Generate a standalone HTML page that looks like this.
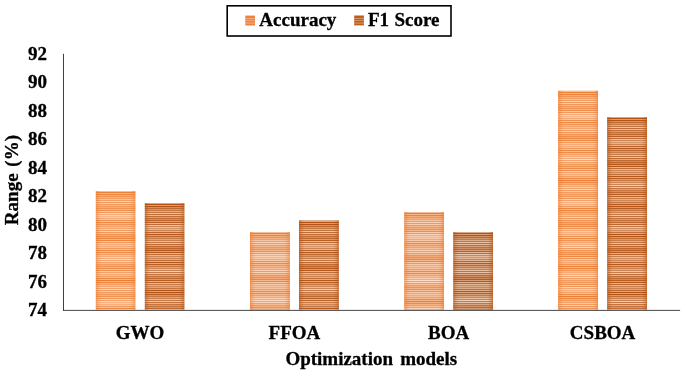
<!DOCTYPE html>
<html><head><meta charset="utf-8"><title>Chart</title><style>html,body{margin:0;padding:0;background:#fff}svg{display:block}</style></head><body>
<svg width="685" height="374" viewBox="0 0 685 374">
<rect width="685" height="374" fill="#fff"/>
<clipPath id="c1"><rect x="95.60" y="190.90" width="40.00" height="118.95"/></clipPath>
<g clip-path="url(#c1)">
<rect x="95.60" y="190" width="40" height="1" fill="#F09252"/><rect x="95.60" y="191" width="40" height="1" fill="#F7BE97"/><rect x="95.60" y="192" width="40" height="1" fill="#ED8035"/><rect x="95.60" y="193" width="40" height="1" fill="#F6B68A"/><rect x="95.60" y="194" width="40" height="1" fill="#EE833A"/><rect x="95.60" y="195" width="40" height="1" fill="#F4AE7D"/><rect x="95.60" y="196" width="40" height="1" fill="#F09455"/><rect x="95.60" y="197" width="40" height="1" fill="#F5B385"/><rect x="95.60" y="198" width="40" height="1" fill="#F29F66"/><rect x="95.60" y="199" width="40" height="1" fill="#F8C5A3"/><rect x="95.60" y="200" width="40" height="1" fill="#F29D64"/><rect x="95.60" y="201" width="40" height="1" fill="#FAD4B9"/><rect x="95.60" y="202" width="40" height="1" fill="#F1995C"/><rect x="95.60" y="203" width="40" height="1" fill="#F9CDAF"/><rect x="95.60" y="204" width="40" height="1" fill="#F1985C"/><rect x="95.60" y="205" width="40" height="1" fill="#F6B88E"/><rect x="95.60" y="206" width="40" height="1" fill="#F1985B"/><rect x="95.60" y="207" width="40" height="1" fill="#F4AD7D"/><rect x="95.60" y="208" width="40" height="1" fill="#F09151"/><rect x="95.60" y="209" width="40" height="1" fill="#F6B88D"/><rect x="95.60" y="210" width="40" height="1" fill="#EF8D4B"/><rect x="95.60" y="211" width="40" height="1" fill="#F9CBAB"/><rect x="95.60" y="212" width="40" height="1" fill="#F1975A"/><rect x="95.60" y="213" width="40" height="1" fill="#FAD4B9"/><rect x="95.60" y="214" width="40" height="1" fill="#F4AB7A"/><rect x="95.60" y="215" width="40" height="1" fill="#FAD0B3"/><rect x="95.60" y="216" width="40" height="1" fill="#F6B588"/><rect x="95.60" y="217" width="40" height="1" fill="#F9CAAA"/><rect x="95.60" y="218" width="40" height="1" fill="#F3A774"/><rect x="95.60" y="219" width="40" height="1" fill="#F9C9A8"/><rect x="95.60" y="220" width="40" height="1" fill="#F09050"/><rect x="95.60" y="221" width="40" height="1" fill="#F8C4A1"/><rect x="95.60" y="222" width="40" height="1" fill="#EF8741"/><rect x="95.60" y="223" width="40" height="1" fill="#F6BA91"/><rect x="95.60" y="224" width="40" height="1" fill="#F09353"/><rect x="95.60" y="225" width="40" height="1" fill="#F6B68A"/><rect x="95.60" y="226" width="40" height="1" fill="#F3A16A"/><rect x="95.60" y="227" width="40" height="1" fill="#F7C09A"/><rect x="95.60" y="228" width="40" height="1" fill="#F3A46E"/><rect x="95.60" y="229" width="40" height="1" fill="#FAD1B5"/><rect x="95.60" y="230" width="40" height="1" fill="#F29C62"/><rect x="95.60" y="231" width="40" height="1" fill="#FAD3B8"/><rect x="95.60" y="232" width="40" height="1" fill="#F19658"/><rect x="95.60" y="233" width="40" height="1" fill="#F7C19B"/><rect x="95.60" y="234" width="40" height="1" fill="#F09455"/><rect x="95.60" y="235" width="40" height="1" fill="#F4AB79"/><rect x="95.60" y="236" width="40" height="1" fill="#F08F4D"/><rect x="95.60" y="237" width="40" height="1" fill="#F4A875"/><rect x="95.60" y="238" width="40" height="1" fill="#EE8640"/><rect x="95.60" y="239" width="40" height="1" fill="#F6B88E"/><rect x="95.60" y="240" width="40" height="1" fill="#EF8741"/><rect x="95.60" y="241" width="40" height="1" fill="#F8C8A6"/><rect x="95.60" y="242" width="40" height="1" fill="#F1975A"/><rect x="95.60" y="243" width="40" height="1" fill="#F9CAAA"/><rect x="95.60" y="244" width="40" height="1" fill="#F4AA77"/><rect x="95.60" y="245" width="40" height="1" fill="#F8C5A2"/><rect x="95.60" y="246" width="40" height="1" fill="#F4AA77"/><rect x="95.60" y="247" width="40" height="1" fill="#F8C39E"/><rect x="95.60" y="248" width="40" height="1" fill="#F1975A"/><rect x="95.60" y="249" width="40" height="1" fill="#F8C39F"/><rect x="95.60" y="250" width="40" height="1" fill="#EF8741"/><rect x="95.60" y="251" width="40" height="1" fill="#F7BF99"/><rect x="95.60" y="252" width="40" height="1" fill="#EF8B47"/><rect x="95.60" y="253" width="40" height="1" fill="#F6B98F"/><rect x="95.60" y="254" width="40" height="1" fill="#F29E65"/><rect x="95.60" y="255" width="40" height="1" fill="#F7BE97"/><rect x="95.60" y="256" width="40" height="1" fill="#F4AB79"/><rect x="95.60" y="257" width="40" height="1" fill="#FAD0B2"/><rect x="95.60" y="258" width="40" height="1" fill="#F4A976"/><rect x="95.60" y="259" width="40" height="1" fill="#FCDDC8"/><rect x="95.60" y="260" width="40" height="1" fill="#F3A26A"/><rect x="95.60" y="261" width="40" height="1" fill="#FBD6BC"/><rect x="95.60" y="262" width="40" height="1" fill="#F29E64"/><rect x="95.60" y="263" width="40" height="1" fill="#F7BE98"/><rect x="95.60" y="264" width="40" height="1" fill="#F29B5F"/><rect x="95.60" y="265" width="40" height="1" fill="#F5AF7F"/><rect x="95.60" y="266" width="40" height="1" fill="#F09252"/><rect x="95.60" y="267" width="40" height="1" fill="#F6B589"/><rect x="95.60" y="268" width="40" height="1" fill="#EF8B47"/><rect x="95.60" y="269" width="40" height="1" fill="#F8C5A2"/><rect x="95.60" y="270" width="40" height="1" fill="#F09050"/><rect x="95.60" y="271" width="40" height="1" fill="#F9CDAE"/><rect x="95.60" y="272" width="40" height="1" fill="#F3A16A"/><rect x="95.60" y="273" width="40" height="1" fill="#F8C7A4"/><rect x="95.60" y="274" width="40" height="1" fill="#F4AA77"/><rect x="95.60" y="275" width="40" height="1" fill="#F7BF98"/><rect x="95.60" y="276" width="40" height="1" fill="#F29D63"/><rect x="95.60" y="277" width="40" height="1" fill="#F7BC94"/><rect x="95.60" y="278" width="40" height="1" fill="#EE8640"/><rect x="95.60" y="279" width="40" height="1" fill="#F6BA90"/><rect x="95.60" y="280" width="40" height="1" fill="#ED7D32"/><rect x="95.60" y="281" width="40" height="1" fill="#F5B386"/><rect x="95.60" y="282" width="40" height="1" fill="#EF8A46"/><rect x="95.60" y="283" width="40" height="1" fill="#F5B182"/><rect x="95.60" y="284" width="40" height="1" fill="#F29D63"/><rect x="95.60" y="285" width="40" height="1" fill="#F7BD95"/><rect x="95.60" y="286" width="40" height="1" fill="#F3A46F"/><rect x="95.60" y="287" width="40" height="1" fill="#FAD1B4"/><rect x="95.60" y="288" width="40" height="1" fill="#F2A067"/><rect x="95.60" y="289" width="40" height="1" fill="#FBD8BF"/><rect x="95.60" y="290" width="40" height="1" fill="#F29B60"/><rect x="95.60" y="291" width="40" height="1" fill="#F9C9A8"/><rect x="95.60" y="292" width="40" height="1" fill="#F29B61"/><rect x="95.60" y="293" width="40" height="1" fill="#F6B589"/><rect x="95.60" y="294" width="40" height="1" fill="#F1995D"/><rect x="95.60" y="295" width="40" height="1" fill="#F5B285"/><rect x="95.60" y="296" width="40" height="1" fill="#F09353"/><rect x="95.60" y="297" width="40" height="1" fill="#F8C39E"/><rect x="95.60" y="298" width="40" height="1" fill="#F09353"/><rect x="95.60" y="299" width="40" height="1" fill="#FAD3B8"/><rect x="95.60" y="300" width="40" height="1" fill="#F2A169"/><rect x="95.60" y="301" width="40" height="1" fill="#FAD4BA"/><rect x="95.60" y="302" width="40" height="1" fill="#F5B182"/><rect x="95.60" y="303" width="40" height="1" fill="#F9CCAC"/><rect x="95.60" y="304" width="40" height="1" fill="#F5AF80"/><rect x="95.60" y="305" width="40" height="1" fill="#F8C5A2"/><rect x="95.60" y="306" width="40" height="1" fill="#F19A5F"/><rect x="95.60" y="307" width="40" height="1" fill="#F8C29E"/><rect x="95.60" y="308" width="40" height="1" fill="#EE863E"/><rect x="95.60" y="309" width="40" height="1" fill="#F7BC94"/>
<rect x="95.60" y="190" width="1" height="119.85" fill="#ED7D31" opacity="0.6"/>
<rect x="134.60" y="190" width="1" height="119.85" fill="#ED7D31" opacity="0.6"/>
<rect x="96.60" y="190" width="1" height="119.85" fill="#ED7D31" opacity="0.4"/>
<rect x="133.60" y="190" width="1" height="119.85" fill="#ED7D31" opacity="0.4"/>
<rect x="97.60" y="190" width="1" height="119.85" fill="#ED7D31" opacity="0.25"/>
<rect x="132.60" y="190" width="1" height="119.85" fill="#ED7D31" opacity="0.25"/>
<rect x="98.60" y="190" width="1" height="119.85" fill="#ED7D31" opacity="0.14"/>
<rect x="131.60" y="190" width="1" height="119.85" fill="#ED7D31" opacity="0.14"/>
<rect x="99.60" y="190" width="1" height="119.85" fill="#ED7D31" opacity="0.07"/>
<rect x="130.60" y="190" width="1" height="119.85" fill="#ED7D31" opacity="0.07"/>
</g>
<clipPath id="c2"><rect x="144.60" y="203.00" width="40.00" height="106.85"/></clipPath>
<g clip-path="url(#c2)">
<rect x="144.60" y="203" width="40" height="1" fill="#DCA884"/><rect x="144.60" y="204" width="40" height="1" fill="#B45416"/><rect x="144.60" y="205" width="40" height="1" fill="#D79E77"/><rect x="144.60" y="206" width="40" height="1" fill="#B45416"/><rect x="144.60" y="207" width="40" height="1" fill="#D19266"/><rect x="144.60" y="208" width="40" height="1" fill="#BF6B34"/><rect x="144.60" y="209" width="40" height="1" fill="#D4976D"/><rect x="144.60" y="210" width="40" height="1" fill="#C57946"/><rect x="144.60" y="211" width="40" height="1" fill="#DFB08E"/><rect x="144.60" y="212" width="40" height="1" fill="#C37541"/><rect x="144.60" y="213" width="40" height="1" fill="#E9C4A8"/><rect x="144.60" y="214" width="40" height="1" fill="#C06E38"/><rect x="144.60" y="215" width="40" height="1" fill="#E5BB9C"/><rect x="144.60" y="216" width="40" height="1" fill="#C16F39"/><rect x="144.60" y="217" width="40" height="1" fill="#D79F77"/><rect x="144.60" y="218" width="40" height="1" fill="#C1703A"/><rect x="144.60" y="219" width="40" height="1" fill="#D09064"/><rect x="144.60" y="220" width="40" height="1" fill="#BD672F"/><rect x="144.60" y="221" width="40" height="1" fill="#D79F78"/><rect x="144.60" y="222" width="40" height="1" fill="#BA6026"/><rect x="144.60" y="223" width="40" height="1" fill="#E3B899"/><rect x="144.60" y="224" width="40" height="1" fill="#C06C36"/><rect x="144.60" y="225" width="40" height="1" fill="#E8C3A6"/><rect x="144.60" y="226" width="40" height="1" fill="#CC8759"/><rect x="144.60" y="227" width="40" height="1" fill="#E5BC9D"/><rect x="144.60" y="228" width="40" height="1" fill="#D3956A"/><rect x="144.60" y="229" width="40" height="1" fill="#E2B594"/><rect x="144.60" y="230" width="40" height="1" fill="#CA8353"/><rect x="144.60" y="231" width="40" height="1" fill="#E2B494"/><rect x="144.60" y="232" width="40" height="1" fill="#BC642B"/><rect x="144.60" y="233" width="40" height="1" fill="#E0B08E"/><rect x="144.60" y="234" width="40" height="1" fill="#B6591C"/><rect x="144.60" y="235" width="40" height="1" fill="#D9A37D"/><rect x="144.60" y="236" width="40" height="1" fill="#BE6831"/><rect x="144.60" y="237" width="40" height="1" fill="#D69B72"/><rect x="144.60" y="238" width="40" height="1" fill="#C77C4B"/><rect x="144.60" y="239" width="40" height="1" fill="#DCA884"/><rect x="144.60" y="240" width="40" height="1" fill="#C87E4D"/><rect x="144.60" y="241" width="40" height="1" fill="#E7BFA2"/><rect x="144.60" y="242" width="40" height="1" fill="#C2733E"/><rect x="144.60" y="243" width="40" height="1" fill="#E9C3A7"/><rect x="144.60" y="244" width="40" height="1" fill="#BF6B34"/><rect x="144.60" y="245" width="40" height="1" fill="#DDAA87"/><rect x="144.60" y="246" width="40" height="1" fill="#BF6A33"/><rect x="144.60" y="247" width="40" height="1" fill="#CF8D61"/><rect x="144.60" y="248" width="40" height="1" fill="#BC652C"/><rect x="144.60" y="249" width="40" height="1" fill="#CE8A5D"/><rect x="144.60" y="250" width="40" height="1" fill="#B6591C"/><rect x="144.60" y="251" width="40" height="1" fill="#D8A07A"/><rect x="144.60" y="252" width="40" height="1" fill="#B6581B"/><rect x="144.60" y="253" width="40" height="1" fill="#E2B594"/><rect x="144.60" y="254" width="40" height="1" fill="#C06D37"/><rect x="144.60" y="255" width="40" height="1" fill="#E2B696"/><rect x="144.60" y="256" width="40" height="1" fill="#CC8657"/><rect x="144.60" y="257" width="40" height="1" fill="#DEAE8B"/><rect x="144.60" y="258" width="40" height="1" fill="#CC8758"/><rect x="144.60" y="259" width="40" height="1" fill="#DEAC89"/><rect x="144.60" y="260" width="40" height="1" fill="#C06E38"/><rect x="144.60" y="261" width="40" height="1" fill="#DFAF8C"/><rect x="144.60" y="262" width="40" height="1" fill="#B6581B"/><rect x="144.60" y="263" width="40" height="1" fill="#DCAA86"/><rect x="144.60" y="264" width="40" height="1" fill="#B95E23"/><rect x="144.60" y="265" width="40" height="1" fill="#D8A079"/><rect x="144.60" y="266" width="40" height="1" fill="#C57845"/><rect x="144.60" y="267" width="40" height="1" fill="#DAA57F"/><rect x="144.60" y="268" width="40" height="1" fill="#CD885A"/><rect x="144.60" y="269" width="40" height="1" fill="#E5BC9E"/><rect x="144.60" y="270" width="40" height="1" fill="#CB8454"/><rect x="144.60" y="271" width="40" height="1" fill="#EECFB7"/><rect x="144.60" y="272" width="40" height="1" fill="#C57946"/><rect x="144.60" y="273" width="40" height="1" fill="#EAC6AA"/><rect x="144.60" y="274" width="40" height="1" fill="#C47642"/><rect x="144.60" y="275" width="40" height="1" fill="#DBA682"/><rect x="144.60" y="276" width="40" height="1" fill="#C3743F"/><rect x="144.60" y="277" width="40" height="1" fill="#D19267"/><rect x="144.60" y="278" width="40" height="1" fill="#BE6931"/><rect x="144.60" y="279" width="40" height="1" fill="#D69B73"/><rect x="144.60" y="280" width="40" height="1" fill="#B85D22"/><rect x="144.60" y="281" width="40" height="1" fill="#E0B290"/><rect x="144.60" y="282" width="40" height="1" fill="#BB642A"/><rect x="144.60" y="283" width="40" height="1" fill="#E4BA9B"/><rect x="144.60" y="284" width="40" height="1" fill="#C67A48"/><rect x="144.60" y="285" width="40" height="1" fill="#E0B08F"/><rect x="144.60" y="286" width="40" height="1" fill="#CC8758"/><rect x="144.60" y="287" width="40" height="1" fill="#DBA681"/><rect x="144.60" y="288" width="40" height="1" fill="#C47642"/><rect x="144.60" y="289" width="40" height="1" fill="#DAA57F"/><rect x="144.60" y="290" width="40" height="1" fill="#B6571A"/><rect x="144.60" y="291" width="40" height="1" fill="#D9A37D"/><rect x="144.60" y="292" width="40" height="1" fill="#B45416"/><rect x="144.60" y="293" width="40" height="1" fill="#D59A71"/><rect x="144.60" y="294" width="40" height="1" fill="#B95E23"/><rect x="144.60" y="295" width="40" height="1" fill="#D3956A"/><rect x="144.60" y="296" width="40" height="1" fill="#C57744"/><rect x="144.60" y="297" width="40" height="1" fill="#DAA47E"/><rect x="144.60" y="298" width="40" height="1" fill="#C87F4E"/><rect x="144.60" y="299" width="40" height="1" fill="#E6BFA1"/><rect x="144.60" y="300" width="40" height="1" fill="#C47743"/><rect x="144.60" y="301" width="40" height="1" fill="#EBC9AE"/><rect x="144.60" y="302" width="40" height="1" fill="#C2713C"/><rect x="144.60" y="303" width="40" height="1" fill="#E2B595"/><rect x="144.60" y="304" width="40" height="1" fill="#C3743F"/><rect x="144.60" y="305" width="40" height="1" fill="#D59A72"/><rect x="144.60" y="306" width="40" height="1" fill="#C2723D"/><rect x="144.60" y="307" width="40" height="1" fill="#D4976D"/><rect x="144.60" y="308" width="40" height="1" fill="#BE6931"/><rect x="144.60" y="309" width="40" height="1" fill="#DEAD8A"/>
<rect x="144.60" y="203" width="1" height="106.85" fill="#B45416" opacity="0.6"/>
<rect x="183.60" y="203" width="1" height="106.85" fill="#B45416" opacity="0.6"/>
<rect x="145.60" y="203" width="1" height="106.85" fill="#B45416" opacity="0.4"/>
<rect x="182.60" y="203" width="1" height="106.85" fill="#B45416" opacity="0.4"/>
<rect x="146.60" y="203" width="1" height="106.85" fill="#B45416" opacity="0.25"/>
<rect x="181.60" y="203" width="1" height="106.85" fill="#B45416" opacity="0.25"/>
<rect x="147.60" y="203" width="1" height="106.85" fill="#B45416" opacity="0.14"/>
<rect x="180.60" y="203" width="1" height="106.85" fill="#B45416" opacity="0.14"/>
<rect x="148.60" y="203" width="1" height="106.85" fill="#B45416" opacity="0.07"/>
<rect x="179.60" y="203" width="1" height="106.85" fill="#B45416" opacity="0.07"/>
</g>
<clipPath id="c3"><rect x="249.90" y="232.00" width="40.00" height="77.85"/></clipPath>
<g clip-path="url(#c3)">
<rect x="249.90" y="232" width="40" height="1" fill="#F7BE97"/><rect x="249.90" y="233" width="40" height="1" fill="#ED8035"/><rect x="249.90" y="234" width="40" height="1" fill="#F6B68A"/><rect x="249.90" y="235" width="40" height="1" fill="#EE833A"/><rect x="249.90" y="236" width="40" height="1" fill="#F4AE7D"/><rect x="249.90" y="237" width="40" height="1" fill="#F09455"/><rect x="249.90" y="238" width="40" height="1" fill="#F5B385"/><rect x="249.90" y="239" width="40" height="1" fill="#F29F66"/><rect x="249.90" y="240" width="40" height="1" fill="#F8C5A3"/><rect x="249.90" y="241" width="40" height="1" fill="#F29D64"/><rect x="249.90" y="242" width="40" height="1" fill="#FAD4B9"/><rect x="249.90" y="243" width="40" height="1" fill="#F1995C"/><rect x="249.90" y="244" width="40" height="1" fill="#F9CDAF"/><rect x="249.90" y="245" width="40" height="1" fill="#F1985C"/><rect x="249.90" y="246" width="40" height="1" fill="#F6B88E"/><rect x="249.90" y="247" width="40" height="1" fill="#F1985B"/><rect x="249.90" y="248" width="40" height="1" fill="#F4AD7D"/><rect x="249.90" y="249" width="40" height="1" fill="#F09151"/><rect x="249.90" y="250" width="40" height="1" fill="#F6B88D"/><rect x="249.90" y="251" width="40" height="1" fill="#EF8D4B"/><rect x="249.90" y="252" width="40" height="1" fill="#F9CBAB"/><rect x="249.90" y="253" width="40" height="1" fill="#F1975A"/><rect x="249.90" y="254" width="40" height="1" fill="#FAD4B9"/><rect x="249.90" y="255" width="40" height="1" fill="#F4AB7A"/><rect x="249.90" y="256" width="40" height="1" fill="#FAD0B3"/><rect x="249.90" y="257" width="40" height="1" fill="#F6B588"/><rect x="249.90" y="258" width="40" height="1" fill="#F9CAAA"/><rect x="249.90" y="259" width="40" height="1" fill="#F3A774"/><rect x="249.90" y="260" width="40" height="1" fill="#F9C9A8"/><rect x="249.90" y="261" width="40" height="1" fill="#F09050"/><rect x="249.90" y="262" width="40" height="1" fill="#F8C4A1"/><rect x="249.90" y="263" width="40" height="1" fill="#EF8741"/><rect x="249.90" y="264" width="40" height="1" fill="#F6BA91"/><rect x="249.90" y="265" width="40" height="1" fill="#F09353"/><rect x="249.90" y="266" width="40" height="1" fill="#F6B68A"/><rect x="249.90" y="267" width="40" height="1" fill="#F3A16A"/><rect x="249.90" y="268" width="40" height="1" fill="#F7C09A"/><rect x="249.90" y="269" width="40" height="1" fill="#F3A46E"/><rect x="249.90" y="270" width="40" height="1" fill="#FAD1B5"/><rect x="249.90" y="271" width="40" height="1" fill="#F29C62"/><rect x="249.90" y="272" width="40" height="1" fill="#FAD3B8"/><rect x="249.90" y="273" width="40" height="1" fill="#F19658"/><rect x="249.90" y="274" width="40" height="1" fill="#F7C19B"/><rect x="249.90" y="275" width="40" height="1" fill="#F09455"/><rect x="249.90" y="276" width="40" height="1" fill="#F4AB79"/><rect x="249.90" y="277" width="40" height="1" fill="#F08F4D"/><rect x="249.90" y="278" width="40" height="1" fill="#F4A875"/><rect x="249.90" y="279" width="40" height="1" fill="#EE8640"/><rect x="249.90" y="280" width="40" height="1" fill="#F6B88E"/><rect x="249.90" y="281" width="40" height="1" fill="#EF8741"/><rect x="249.90" y="282" width="40" height="1" fill="#F8C8A6"/><rect x="249.90" y="283" width="40" height="1" fill="#F1975A"/><rect x="249.90" y="284" width="40" height="1" fill="#F9CAAA"/><rect x="249.90" y="285" width="40" height="1" fill="#F4AA77"/><rect x="249.90" y="286" width="40" height="1" fill="#F8C5A2"/><rect x="249.90" y="287" width="40" height="1" fill="#F4AA77"/><rect x="249.90" y="288" width="40" height="1" fill="#F8C39E"/><rect x="249.90" y="289" width="40" height="1" fill="#F1975A"/><rect x="249.90" y="290" width="40" height="1" fill="#F8C39F"/><rect x="249.90" y="291" width="40" height="1" fill="#EF8741"/><rect x="249.90" y="292" width="40" height="1" fill="#F7BF99"/><rect x="249.90" y="293" width="40" height="1" fill="#EF8B47"/><rect x="249.90" y="294" width="40" height="1" fill="#F6B98F"/><rect x="249.90" y="295" width="40" height="1" fill="#F29E65"/><rect x="249.90" y="296" width="40" height="1" fill="#F7BE97"/><rect x="249.90" y="297" width="40" height="1" fill="#F4AB79"/><rect x="249.90" y="298" width="40" height="1" fill="#FAD0B2"/><rect x="249.90" y="299" width="40" height="1" fill="#F4A976"/><rect x="249.90" y="300" width="40" height="1" fill="#FCDDC8"/><rect x="249.90" y="301" width="40" height="1" fill="#F3A26A"/><rect x="249.90" y="302" width="40" height="1" fill="#FBD6BC"/><rect x="249.90" y="303" width="40" height="1" fill="#F29E64"/><rect x="249.90" y="304" width="40" height="1" fill="#F7BE98"/><rect x="249.90" y="305" width="40" height="1" fill="#F29B5F"/><rect x="249.90" y="306" width="40" height="1" fill="#F5AF7F"/><rect x="249.90" y="307" width="40" height="1" fill="#F09252"/><rect x="249.90" y="308" width="40" height="1" fill="#F6B589"/><rect x="249.90" y="309" width="40" height="1" fill="#EF8B47"/>
<rect x="249.90" y="232" width="1" height="77.85" fill="#ED7D31" opacity="0.6"/>
<rect x="288.90" y="232" width="1" height="77.85" fill="#ED7D31" opacity="0.6"/>
<rect x="250.90" y="232" width="1" height="77.85" fill="#ED7D31" opacity="0.4"/>
<rect x="287.90" y="232" width="1" height="77.85" fill="#ED7D31" opacity="0.4"/>
<rect x="251.90" y="232" width="1" height="77.85" fill="#ED7D31" opacity="0.25"/>
<rect x="286.90" y="232" width="1" height="77.85" fill="#ED7D31" opacity="0.25"/>
<rect x="252.90" y="232" width="1" height="77.85" fill="#ED7D31" opacity="0.14"/>
<rect x="285.90" y="232" width="1" height="77.85" fill="#ED7D31" opacity="0.14"/>
<rect x="253.90" y="232" width="1" height="77.85" fill="#ED7D31" opacity="0.07"/>
<rect x="284.90" y="232" width="1" height="77.85" fill="#ED7D31" opacity="0.07"/>
</g>
<clipPath id="c4"><rect x="298.90" y="220.60" width="40.00" height="89.25"/></clipPath>
<g clip-path="url(#c4)">
<rect x="298.90" y="220" width="40" height="1" fill="#BD672E"/><rect x="298.90" y="221" width="40" height="1" fill="#DCA884"/><rect x="298.90" y="222" width="40" height="1" fill="#B45416"/><rect x="298.90" y="223" width="40" height="1" fill="#D79E77"/><rect x="298.90" y="224" width="40" height="1" fill="#B45416"/><rect x="298.90" y="225" width="40" height="1" fill="#D19266"/><rect x="298.90" y="226" width="40" height="1" fill="#BF6B34"/><rect x="298.90" y="227" width="40" height="1" fill="#D4976D"/><rect x="298.90" y="228" width="40" height="1" fill="#C57946"/><rect x="298.90" y="229" width="40" height="1" fill="#DFB08E"/><rect x="298.90" y="230" width="40" height="1" fill="#C37541"/><rect x="298.90" y="231" width="40" height="1" fill="#E9C4A8"/><rect x="298.90" y="232" width="40" height="1" fill="#C06E38"/><rect x="298.90" y="233" width="40" height="1" fill="#E5BB9C"/><rect x="298.90" y="234" width="40" height="1" fill="#C16F39"/><rect x="298.90" y="235" width="40" height="1" fill="#D79F77"/><rect x="298.90" y="236" width="40" height="1" fill="#C1703A"/><rect x="298.90" y="237" width="40" height="1" fill="#D09064"/><rect x="298.90" y="238" width="40" height="1" fill="#BD672F"/><rect x="298.90" y="239" width="40" height="1" fill="#D79F78"/><rect x="298.90" y="240" width="40" height="1" fill="#BA6026"/><rect x="298.90" y="241" width="40" height="1" fill="#E3B899"/><rect x="298.90" y="242" width="40" height="1" fill="#C06C36"/><rect x="298.90" y="243" width="40" height="1" fill="#E8C3A6"/><rect x="298.90" y="244" width="40" height="1" fill="#CC8759"/><rect x="298.90" y="245" width="40" height="1" fill="#E5BC9D"/><rect x="298.90" y="246" width="40" height="1" fill="#D3956A"/><rect x="298.90" y="247" width="40" height="1" fill="#E2B594"/><rect x="298.90" y="248" width="40" height="1" fill="#CA8353"/><rect x="298.90" y="249" width="40" height="1" fill="#E2B494"/><rect x="298.90" y="250" width="40" height="1" fill="#BC642B"/><rect x="298.90" y="251" width="40" height="1" fill="#E0B08E"/><rect x="298.90" y="252" width="40" height="1" fill="#B6591C"/><rect x="298.90" y="253" width="40" height="1" fill="#D9A37D"/><rect x="298.90" y="254" width="40" height="1" fill="#BE6831"/><rect x="298.90" y="255" width="40" height="1" fill="#D69B72"/><rect x="298.90" y="256" width="40" height="1" fill="#C77C4B"/><rect x="298.90" y="257" width="40" height="1" fill="#DCA884"/><rect x="298.90" y="258" width="40" height="1" fill="#C87E4D"/><rect x="298.90" y="259" width="40" height="1" fill="#E7BFA2"/><rect x="298.90" y="260" width="40" height="1" fill="#C2733E"/><rect x="298.90" y="261" width="40" height="1" fill="#E9C3A7"/><rect x="298.90" y="262" width="40" height="1" fill="#BF6B34"/><rect x="298.90" y="263" width="40" height="1" fill="#DDAA87"/><rect x="298.90" y="264" width="40" height="1" fill="#BF6A33"/><rect x="298.90" y="265" width="40" height="1" fill="#CF8D61"/><rect x="298.90" y="266" width="40" height="1" fill="#BC652C"/><rect x="298.90" y="267" width="40" height="1" fill="#CE8A5D"/><rect x="298.90" y="268" width="40" height="1" fill="#B6591C"/><rect x="298.90" y="269" width="40" height="1" fill="#D8A07A"/><rect x="298.90" y="270" width="40" height="1" fill="#B6581B"/><rect x="298.90" y="271" width="40" height="1" fill="#E2B594"/><rect x="298.90" y="272" width="40" height="1" fill="#C06D37"/><rect x="298.90" y="273" width="40" height="1" fill="#E2B696"/><rect x="298.90" y="274" width="40" height="1" fill="#CC8657"/><rect x="298.90" y="275" width="40" height="1" fill="#DEAE8B"/><rect x="298.90" y="276" width="40" height="1" fill="#CC8758"/><rect x="298.90" y="277" width="40" height="1" fill="#DEAC89"/><rect x="298.90" y="278" width="40" height="1" fill="#C06E38"/><rect x="298.90" y="279" width="40" height="1" fill="#DFAF8C"/><rect x="298.90" y="280" width="40" height="1" fill="#B6581B"/><rect x="298.90" y="281" width="40" height="1" fill="#DCAA86"/><rect x="298.90" y="282" width="40" height="1" fill="#B95E23"/><rect x="298.90" y="283" width="40" height="1" fill="#D8A079"/><rect x="298.90" y="284" width="40" height="1" fill="#C57845"/><rect x="298.90" y="285" width="40" height="1" fill="#DAA57F"/><rect x="298.90" y="286" width="40" height="1" fill="#CD885A"/><rect x="298.90" y="287" width="40" height="1" fill="#E5BC9E"/><rect x="298.90" y="288" width="40" height="1" fill="#CB8454"/><rect x="298.90" y="289" width="40" height="1" fill="#EECFB7"/><rect x="298.90" y="290" width="40" height="1" fill="#C57946"/><rect x="298.90" y="291" width="40" height="1" fill="#EAC6AA"/><rect x="298.90" y="292" width="40" height="1" fill="#C47642"/><rect x="298.90" y="293" width="40" height="1" fill="#DBA682"/><rect x="298.90" y="294" width="40" height="1" fill="#C3743F"/><rect x="298.90" y="295" width="40" height="1" fill="#D19267"/><rect x="298.90" y="296" width="40" height="1" fill="#BE6931"/><rect x="298.90" y="297" width="40" height="1" fill="#D69B73"/><rect x="298.90" y="298" width="40" height="1" fill="#B85D22"/><rect x="298.90" y="299" width="40" height="1" fill="#E0B290"/><rect x="298.90" y="300" width="40" height="1" fill="#BB642A"/><rect x="298.90" y="301" width="40" height="1" fill="#E4BA9B"/><rect x="298.90" y="302" width="40" height="1" fill="#C67A48"/><rect x="298.90" y="303" width="40" height="1" fill="#E0B08F"/><rect x="298.90" y="304" width="40" height="1" fill="#CC8758"/><rect x="298.90" y="305" width="40" height="1" fill="#DBA681"/><rect x="298.90" y="306" width="40" height="1" fill="#C47642"/><rect x="298.90" y="307" width="40" height="1" fill="#DAA57F"/><rect x="298.90" y="308" width="40" height="1" fill="#B6571A"/><rect x="298.90" y="309" width="40" height="1" fill="#D9A37D"/>
<rect x="298.90" y="220" width="1" height="89.85" fill="#B45416" opacity="0.6"/>
<rect x="337.90" y="220" width="1" height="89.85" fill="#B45416" opacity="0.6"/>
<rect x="299.90" y="220" width="1" height="89.85" fill="#B45416" opacity="0.4"/>
<rect x="336.90" y="220" width="1" height="89.85" fill="#B45416" opacity="0.4"/>
<rect x="300.90" y="220" width="1" height="89.85" fill="#B45416" opacity="0.25"/>
<rect x="335.90" y="220" width="1" height="89.85" fill="#B45416" opacity="0.25"/>
<rect x="301.90" y="220" width="1" height="89.85" fill="#B45416" opacity="0.14"/>
<rect x="334.90" y="220" width="1" height="89.85" fill="#B45416" opacity="0.14"/>
<rect x="302.90" y="220" width="1" height="89.85" fill="#B45416" opacity="0.07"/>
<rect x="333.90" y="220" width="1" height="89.85" fill="#B45416" opacity="0.07"/>
</g>
<clipPath id="c5"><rect x="404.15" y="211.90" width="40.00" height="97.95"/></clipPath>
<g clip-path="url(#c5)">
<rect x="404.15" y="211" width="40" height="1" fill="#F09252"/><rect x="404.15" y="212" width="40" height="1" fill="#F7BE97"/><rect x="404.15" y="213" width="40" height="1" fill="#ED8035"/><rect x="404.15" y="214" width="40" height="1" fill="#F6B68A"/><rect x="404.15" y="215" width="40" height="1" fill="#EE833A"/><rect x="404.15" y="216" width="40" height="1" fill="#F4AE7D"/><rect x="404.15" y="217" width="40" height="1" fill="#F09455"/><rect x="404.15" y="218" width="40" height="1" fill="#F5B385"/><rect x="404.15" y="219" width="40" height="1" fill="#F29F66"/><rect x="404.15" y="220" width="40" height="1" fill="#F8C5A3"/><rect x="404.15" y="221" width="40" height="1" fill="#F29D64"/><rect x="404.15" y="222" width="40" height="1" fill="#FAD4B9"/><rect x="404.15" y="223" width="40" height="1" fill="#F1995C"/><rect x="404.15" y="224" width="40" height="1" fill="#F9CDAF"/><rect x="404.15" y="225" width="40" height="1" fill="#F1985C"/><rect x="404.15" y="226" width="40" height="1" fill="#F6B88E"/><rect x="404.15" y="227" width="40" height="1" fill="#F1985B"/><rect x="404.15" y="228" width="40" height="1" fill="#F4AD7D"/><rect x="404.15" y="229" width="40" height="1" fill="#F09151"/><rect x="404.15" y="230" width="40" height="1" fill="#F6B88D"/><rect x="404.15" y="231" width="40" height="1" fill="#EF8D4B"/><rect x="404.15" y="232" width="40" height="1" fill="#F9CBAB"/><rect x="404.15" y="233" width="40" height="1" fill="#F1975A"/><rect x="404.15" y="234" width="40" height="1" fill="#FAD4B9"/><rect x="404.15" y="235" width="40" height="1" fill="#F4AB7A"/><rect x="404.15" y="236" width="40" height="1" fill="#FAD0B3"/><rect x="404.15" y="237" width="40" height="1" fill="#F6B588"/><rect x="404.15" y="238" width="40" height="1" fill="#F9CAAA"/><rect x="404.15" y="239" width="40" height="1" fill="#F3A774"/><rect x="404.15" y="240" width="40" height="1" fill="#F9C9A8"/><rect x="404.15" y="241" width="40" height="1" fill="#F09050"/><rect x="404.15" y="242" width="40" height="1" fill="#F8C4A1"/><rect x="404.15" y="243" width="40" height="1" fill="#EF8741"/><rect x="404.15" y="244" width="40" height="1" fill="#F6BA91"/><rect x="404.15" y="245" width="40" height="1" fill="#F09353"/><rect x="404.15" y="246" width="40" height="1" fill="#F6B68A"/><rect x="404.15" y="247" width="40" height="1" fill="#F3A16A"/><rect x="404.15" y="248" width="40" height="1" fill="#F7C09A"/><rect x="404.15" y="249" width="40" height="1" fill="#F3A46E"/><rect x="404.15" y="250" width="40" height="1" fill="#FAD1B5"/><rect x="404.15" y="251" width="40" height="1" fill="#F29C62"/><rect x="404.15" y="252" width="40" height="1" fill="#FAD3B8"/><rect x="404.15" y="253" width="40" height="1" fill="#F19658"/><rect x="404.15" y="254" width="40" height="1" fill="#F7C19B"/><rect x="404.15" y="255" width="40" height="1" fill="#F09455"/><rect x="404.15" y="256" width="40" height="1" fill="#F4AB79"/><rect x="404.15" y="257" width="40" height="1" fill="#F08F4D"/><rect x="404.15" y="258" width="40" height="1" fill="#F4A875"/><rect x="404.15" y="259" width="40" height="1" fill="#EE8640"/><rect x="404.15" y="260" width="40" height="1" fill="#F6B88E"/><rect x="404.15" y="261" width="40" height="1" fill="#EF8741"/><rect x="404.15" y="262" width="40" height="1" fill="#F8C8A6"/><rect x="404.15" y="263" width="40" height="1" fill="#F1975A"/><rect x="404.15" y="264" width="40" height="1" fill="#F9CAAA"/><rect x="404.15" y="265" width="40" height="1" fill="#F4AA77"/><rect x="404.15" y="266" width="40" height="1" fill="#F8C5A2"/><rect x="404.15" y="267" width="40" height="1" fill="#F4AA77"/><rect x="404.15" y="268" width="40" height="1" fill="#F8C39E"/><rect x="404.15" y="269" width="40" height="1" fill="#F1975A"/><rect x="404.15" y="270" width="40" height="1" fill="#F8C39F"/><rect x="404.15" y="271" width="40" height="1" fill="#EF8741"/><rect x="404.15" y="272" width="40" height="1" fill="#F7BF99"/><rect x="404.15" y="273" width="40" height="1" fill="#EF8B47"/><rect x="404.15" y="274" width="40" height="1" fill="#F6B98F"/><rect x="404.15" y="275" width="40" height="1" fill="#F29E65"/><rect x="404.15" y="276" width="40" height="1" fill="#F7BE97"/><rect x="404.15" y="277" width="40" height="1" fill="#F4AB79"/><rect x="404.15" y="278" width="40" height="1" fill="#FAD0B2"/><rect x="404.15" y="279" width="40" height="1" fill="#F4A976"/><rect x="404.15" y="280" width="40" height="1" fill="#FCDDC8"/><rect x="404.15" y="281" width="40" height="1" fill="#F3A26A"/><rect x="404.15" y="282" width="40" height="1" fill="#FBD6BC"/><rect x="404.15" y="283" width="40" height="1" fill="#F29E64"/><rect x="404.15" y="284" width="40" height="1" fill="#F7BE98"/><rect x="404.15" y="285" width="40" height="1" fill="#F29B5F"/><rect x="404.15" y="286" width="40" height="1" fill="#F5AF7F"/><rect x="404.15" y="287" width="40" height="1" fill="#F09252"/><rect x="404.15" y="288" width="40" height="1" fill="#F6B589"/><rect x="404.15" y="289" width="40" height="1" fill="#EF8B47"/><rect x="404.15" y="290" width="40" height="1" fill="#F8C5A2"/><rect x="404.15" y="291" width="40" height="1" fill="#F09050"/><rect x="404.15" y="292" width="40" height="1" fill="#F9CDAE"/><rect x="404.15" y="293" width="40" height="1" fill="#F3A16A"/><rect x="404.15" y="294" width="40" height="1" fill="#F8C7A4"/><rect x="404.15" y="295" width="40" height="1" fill="#F4AA77"/><rect x="404.15" y="296" width="40" height="1" fill="#F7BF98"/><rect x="404.15" y="297" width="40" height="1" fill="#F29D63"/><rect x="404.15" y="298" width="40" height="1" fill="#F7BC94"/><rect x="404.15" y="299" width="40" height="1" fill="#EE8640"/><rect x="404.15" y="300" width="40" height="1" fill="#F6BA90"/><rect x="404.15" y="301" width="40" height="1" fill="#ED7D32"/><rect x="404.15" y="302" width="40" height="1" fill="#F5B386"/><rect x="404.15" y="303" width="40" height="1" fill="#EF8A46"/><rect x="404.15" y="304" width="40" height="1" fill="#F5B182"/><rect x="404.15" y="305" width="40" height="1" fill="#F29D63"/><rect x="404.15" y="306" width="40" height="1" fill="#F7BD95"/><rect x="404.15" y="307" width="40" height="1" fill="#F3A46F"/><rect x="404.15" y="308" width="40" height="1" fill="#FAD1B4"/><rect x="404.15" y="309" width="40" height="1" fill="#F2A067"/>
<rect x="404.15" y="211" width="1" height="98.85" fill="#ED7D31" opacity="0.6"/>
<rect x="443.15" y="211" width="1" height="98.85" fill="#ED7D31" opacity="0.6"/>
<rect x="405.15" y="211" width="1" height="98.85" fill="#ED7D31" opacity="0.4"/>
<rect x="442.15" y="211" width="1" height="98.85" fill="#ED7D31" opacity="0.4"/>
<rect x="406.15" y="211" width="1" height="98.85" fill="#ED7D31" opacity="0.25"/>
<rect x="441.15" y="211" width="1" height="98.85" fill="#ED7D31" opacity="0.25"/>
<rect x="407.15" y="211" width="1" height="98.85" fill="#ED7D31" opacity="0.14"/>
<rect x="440.15" y="211" width="1" height="98.85" fill="#ED7D31" opacity="0.14"/>
<rect x="408.15" y="211" width="1" height="98.85" fill="#ED7D31" opacity="0.07"/>
<rect x="439.15" y="211" width="1" height="98.85" fill="#ED7D31" opacity="0.07"/>
</g>
<clipPath id="c6"><rect x="453.15" y="232.10" width="40.00" height="77.75"/></clipPath>
<g clip-path="url(#c6)">
<rect x="453.15" y="232" width="40" height="1" fill="#DCA884"/><rect x="453.15" y="233" width="40" height="1" fill="#B45416"/><rect x="453.15" y="234" width="40" height="1" fill="#D79E77"/><rect x="453.15" y="235" width="40" height="1" fill="#B45416"/><rect x="453.15" y="236" width="40" height="1" fill="#D19266"/><rect x="453.15" y="237" width="40" height="1" fill="#BF6B34"/><rect x="453.15" y="238" width="40" height="1" fill="#D4976D"/><rect x="453.15" y="239" width="40" height="1" fill="#C57946"/><rect x="453.15" y="240" width="40" height="1" fill="#DFB08E"/><rect x="453.15" y="241" width="40" height="1" fill="#C37541"/><rect x="453.15" y="242" width="40" height="1" fill="#E9C4A8"/><rect x="453.15" y="243" width="40" height="1" fill="#C06E38"/><rect x="453.15" y="244" width="40" height="1" fill="#E5BB9C"/><rect x="453.15" y="245" width="40" height="1" fill="#C16F39"/><rect x="453.15" y="246" width="40" height="1" fill="#D79F77"/><rect x="453.15" y="247" width="40" height="1" fill="#C1703A"/><rect x="453.15" y="248" width="40" height="1" fill="#D09064"/><rect x="453.15" y="249" width="40" height="1" fill="#BD672F"/><rect x="453.15" y="250" width="40" height="1" fill="#D79F78"/><rect x="453.15" y="251" width="40" height="1" fill="#BA6026"/><rect x="453.15" y="252" width="40" height="1" fill="#E3B899"/><rect x="453.15" y="253" width="40" height="1" fill="#C06C36"/><rect x="453.15" y="254" width="40" height="1" fill="#E8C3A6"/><rect x="453.15" y="255" width="40" height="1" fill="#CC8759"/><rect x="453.15" y="256" width="40" height="1" fill="#E5BC9D"/><rect x="453.15" y="257" width="40" height="1" fill="#D3956A"/><rect x="453.15" y="258" width="40" height="1" fill="#E2B594"/><rect x="453.15" y="259" width="40" height="1" fill="#CA8353"/><rect x="453.15" y="260" width="40" height="1" fill="#E2B494"/><rect x="453.15" y="261" width="40" height="1" fill="#BC642B"/><rect x="453.15" y="262" width="40" height="1" fill="#E0B08E"/><rect x="453.15" y="263" width="40" height="1" fill="#B6591C"/><rect x="453.15" y="264" width="40" height="1" fill="#D9A37D"/><rect x="453.15" y="265" width="40" height="1" fill="#BE6831"/><rect x="453.15" y="266" width="40" height="1" fill="#D69B72"/><rect x="453.15" y="267" width="40" height="1" fill="#C77C4B"/><rect x="453.15" y="268" width="40" height="1" fill="#DCA884"/><rect x="453.15" y="269" width="40" height="1" fill="#C87E4D"/><rect x="453.15" y="270" width="40" height="1" fill="#E7BFA2"/><rect x="453.15" y="271" width="40" height="1" fill="#C2733E"/><rect x="453.15" y="272" width="40" height="1" fill="#E9C3A7"/><rect x="453.15" y="273" width="40" height="1" fill="#BF6B34"/><rect x="453.15" y="274" width="40" height="1" fill="#DDAA87"/><rect x="453.15" y="275" width="40" height="1" fill="#BF6A33"/><rect x="453.15" y="276" width="40" height="1" fill="#CF8D61"/><rect x="453.15" y="277" width="40" height="1" fill="#BC652C"/><rect x="453.15" y="278" width="40" height="1" fill="#CE8A5D"/><rect x="453.15" y="279" width="40" height="1" fill="#B6591C"/><rect x="453.15" y="280" width="40" height="1" fill="#D8A07A"/><rect x="453.15" y="281" width="40" height="1" fill="#B6581B"/><rect x="453.15" y="282" width="40" height="1" fill="#E2B594"/><rect x="453.15" y="283" width="40" height="1" fill="#C06D37"/><rect x="453.15" y="284" width="40" height="1" fill="#E2B696"/><rect x="453.15" y="285" width="40" height="1" fill="#CC8657"/><rect x="453.15" y="286" width="40" height="1" fill="#DEAE8B"/><rect x="453.15" y="287" width="40" height="1" fill="#CC8758"/><rect x="453.15" y="288" width="40" height="1" fill="#DEAC89"/><rect x="453.15" y="289" width="40" height="1" fill="#C06E38"/><rect x="453.15" y="290" width="40" height="1" fill="#DFAF8C"/><rect x="453.15" y="291" width="40" height="1" fill="#B6581B"/><rect x="453.15" y="292" width="40" height="1" fill="#DCAA86"/><rect x="453.15" y="293" width="40" height="1" fill="#B95E23"/><rect x="453.15" y="294" width="40" height="1" fill="#D8A079"/><rect x="453.15" y="295" width="40" height="1" fill="#C57845"/><rect x="453.15" y="296" width="40" height="1" fill="#DAA57F"/><rect x="453.15" y="297" width="40" height="1" fill="#CD885A"/><rect x="453.15" y="298" width="40" height="1" fill="#E5BC9E"/><rect x="453.15" y="299" width="40" height="1" fill="#CB8454"/><rect x="453.15" y="300" width="40" height="1" fill="#EECFB7"/><rect x="453.15" y="301" width="40" height="1" fill="#C57946"/><rect x="453.15" y="302" width="40" height="1" fill="#EAC6AA"/><rect x="453.15" y="303" width="40" height="1" fill="#C47642"/><rect x="453.15" y="304" width="40" height="1" fill="#DBA682"/><rect x="453.15" y="305" width="40" height="1" fill="#C3743F"/><rect x="453.15" y="306" width="40" height="1" fill="#D19267"/><rect x="453.15" y="307" width="40" height="1" fill="#BE6931"/><rect x="453.15" y="308" width="40" height="1" fill="#D69B73"/><rect x="453.15" y="309" width="40" height="1" fill="#B85D22"/>
<rect x="453.15" y="232" width="1" height="77.85" fill="#B45416" opacity="0.6"/>
<rect x="492.15" y="232" width="1" height="77.85" fill="#B45416" opacity="0.6"/>
<rect x="454.15" y="232" width="1" height="77.85" fill="#B45416" opacity="0.4"/>
<rect x="491.15" y="232" width="1" height="77.85" fill="#B45416" opacity="0.4"/>
<rect x="455.15" y="232" width="1" height="77.85" fill="#B45416" opacity="0.25"/>
<rect x="490.15" y="232" width="1" height="77.85" fill="#B45416" opacity="0.25"/>
<rect x="456.15" y="232" width="1" height="77.85" fill="#B45416" opacity="0.14"/>
<rect x="489.15" y="232" width="1" height="77.85" fill="#B45416" opacity="0.14"/>
<rect x="457.15" y="232" width="1" height="77.85" fill="#B45416" opacity="0.07"/>
<rect x="488.15" y="232" width="1" height="77.85" fill="#B45416" opacity="0.07"/>
</g>
<clipPath id="c7"><rect x="558.10" y="90.80" width="40.00" height="219.05"/></clipPath>
<g clip-path="url(#c7)">
<rect x="558.10" y="90" width="40" height="1" fill="#F09252"/><rect x="558.10" y="91" width="40" height="1" fill="#F7BE97"/><rect x="558.10" y="92" width="40" height="1" fill="#ED8035"/><rect x="558.10" y="93" width="40" height="1" fill="#F6B68A"/><rect x="558.10" y="94" width="40" height="1" fill="#EE833A"/><rect x="558.10" y="95" width="40" height="1" fill="#F4AE7D"/><rect x="558.10" y="96" width="40" height="1" fill="#F09455"/><rect x="558.10" y="97" width="40" height="1" fill="#F5B385"/><rect x="558.10" y="98" width="40" height="1" fill="#F29F66"/><rect x="558.10" y="99" width="40" height="1" fill="#F8C5A3"/><rect x="558.10" y="100" width="40" height="1" fill="#F29D64"/><rect x="558.10" y="101" width="40" height="1" fill="#FAD4B9"/><rect x="558.10" y="102" width="40" height="1" fill="#F1995C"/><rect x="558.10" y="103" width="40" height="1" fill="#F9CDAF"/><rect x="558.10" y="104" width="40" height="1" fill="#F1985C"/><rect x="558.10" y="105" width="40" height="1" fill="#F6B88E"/><rect x="558.10" y="106" width="40" height="1" fill="#F1985B"/><rect x="558.10" y="107" width="40" height="1" fill="#F4AD7D"/><rect x="558.10" y="108" width="40" height="1" fill="#F09151"/><rect x="558.10" y="109" width="40" height="1" fill="#F6B88D"/><rect x="558.10" y="110" width="40" height="1" fill="#EF8D4B"/><rect x="558.10" y="111" width="40" height="1" fill="#F9CBAB"/><rect x="558.10" y="112" width="40" height="1" fill="#F1975A"/><rect x="558.10" y="113" width="40" height="1" fill="#FAD4B9"/><rect x="558.10" y="114" width="40" height="1" fill="#F4AB7A"/><rect x="558.10" y="115" width="40" height="1" fill="#FAD0B3"/><rect x="558.10" y="116" width="40" height="1" fill="#F6B588"/><rect x="558.10" y="117" width="40" height="1" fill="#F9CAAA"/><rect x="558.10" y="118" width="40" height="1" fill="#F3A774"/><rect x="558.10" y="119" width="40" height="1" fill="#F9C9A8"/><rect x="558.10" y="120" width="40" height="1" fill="#F09050"/><rect x="558.10" y="121" width="40" height="1" fill="#F8C4A1"/><rect x="558.10" y="122" width="40" height="1" fill="#EF8741"/><rect x="558.10" y="123" width="40" height="1" fill="#F6BA91"/><rect x="558.10" y="124" width="40" height="1" fill="#F09353"/><rect x="558.10" y="125" width="40" height="1" fill="#F6B68A"/><rect x="558.10" y="126" width="40" height="1" fill="#F3A16A"/><rect x="558.10" y="127" width="40" height="1" fill="#F7C09A"/><rect x="558.10" y="128" width="40" height="1" fill="#F3A46E"/><rect x="558.10" y="129" width="40" height="1" fill="#FAD1B5"/><rect x="558.10" y="130" width="40" height="1" fill="#F29C62"/><rect x="558.10" y="131" width="40" height="1" fill="#FAD3B8"/><rect x="558.10" y="132" width="40" height="1" fill="#F19658"/><rect x="558.10" y="133" width="40" height="1" fill="#F7C19B"/><rect x="558.10" y="134" width="40" height="1" fill="#F09455"/><rect x="558.10" y="135" width="40" height="1" fill="#F4AB79"/><rect x="558.10" y="136" width="40" height="1" fill="#F08F4D"/><rect x="558.10" y="137" width="40" height="1" fill="#F4A875"/><rect x="558.10" y="138" width="40" height="1" fill="#EE8640"/><rect x="558.10" y="139" width="40" height="1" fill="#F6B88E"/><rect x="558.10" y="140" width="40" height="1" fill="#EF8741"/><rect x="558.10" y="141" width="40" height="1" fill="#F8C8A6"/><rect x="558.10" y="142" width="40" height="1" fill="#F1975A"/><rect x="558.10" y="143" width="40" height="1" fill="#F9CAAA"/><rect x="558.10" y="144" width="40" height="1" fill="#F4AA77"/><rect x="558.10" y="145" width="40" height="1" fill="#F8C5A2"/><rect x="558.10" y="146" width="40" height="1" fill="#F4AA77"/><rect x="558.10" y="147" width="40" height="1" fill="#F8C39E"/><rect x="558.10" y="148" width="40" height="1" fill="#F1975A"/><rect x="558.10" y="149" width="40" height="1" fill="#F8C39F"/><rect x="558.10" y="150" width="40" height="1" fill="#EF8741"/><rect x="558.10" y="151" width="40" height="1" fill="#F7BF99"/><rect x="558.10" y="152" width="40" height="1" fill="#EF8B47"/><rect x="558.10" y="153" width="40" height="1" fill="#F6B98F"/><rect x="558.10" y="154" width="40" height="1" fill="#F29E65"/><rect x="558.10" y="155" width="40" height="1" fill="#F7BE97"/><rect x="558.10" y="156" width="40" height="1" fill="#F4AB79"/><rect x="558.10" y="157" width="40" height="1" fill="#FAD0B2"/><rect x="558.10" y="158" width="40" height="1" fill="#F4A976"/><rect x="558.10" y="159" width="40" height="1" fill="#FCDDC8"/><rect x="558.10" y="160" width="40" height="1" fill="#F3A26A"/><rect x="558.10" y="161" width="40" height="1" fill="#FBD6BC"/><rect x="558.10" y="162" width="40" height="1" fill="#F29E64"/><rect x="558.10" y="163" width="40" height="1" fill="#F7BE98"/><rect x="558.10" y="164" width="40" height="1" fill="#F29B5F"/><rect x="558.10" y="165" width="40" height="1" fill="#F5AF7F"/><rect x="558.10" y="166" width="40" height="1" fill="#F09252"/><rect x="558.10" y="167" width="40" height="1" fill="#F6B589"/><rect x="558.10" y="168" width="40" height="1" fill="#EF8B47"/><rect x="558.10" y="169" width="40" height="1" fill="#F8C5A2"/><rect x="558.10" y="170" width="40" height="1" fill="#F09050"/><rect x="558.10" y="171" width="40" height="1" fill="#F9CDAE"/><rect x="558.10" y="172" width="40" height="1" fill="#F3A16A"/><rect x="558.10" y="173" width="40" height="1" fill="#F8C7A4"/><rect x="558.10" y="174" width="40" height="1" fill="#F4AA77"/><rect x="558.10" y="175" width="40" height="1" fill="#F7BF98"/><rect x="558.10" y="176" width="40" height="1" fill="#F29D63"/><rect x="558.10" y="177" width="40" height="1" fill="#F7BC94"/><rect x="558.10" y="178" width="40" height="1" fill="#EE8640"/><rect x="558.10" y="179" width="40" height="1" fill="#F6BA90"/><rect x="558.10" y="180" width="40" height="1" fill="#ED7D32"/><rect x="558.10" y="181" width="40" height="1" fill="#F5B386"/><rect x="558.10" y="182" width="40" height="1" fill="#EF8A46"/><rect x="558.10" y="183" width="40" height="1" fill="#F5B182"/><rect x="558.10" y="184" width="40" height="1" fill="#F29D63"/><rect x="558.10" y="185" width="40" height="1" fill="#F7BD95"/><rect x="558.10" y="186" width="40" height="1" fill="#F3A46F"/><rect x="558.10" y="187" width="40" height="1" fill="#FAD1B4"/><rect x="558.10" y="188" width="40" height="1" fill="#F2A067"/><rect x="558.10" y="189" width="40" height="1" fill="#FBD8BF"/><rect x="558.10" y="190" width="40" height="1" fill="#F29B60"/><rect x="558.10" y="191" width="40" height="1" fill="#F9C9A8"/><rect x="558.10" y="192" width="40" height="1" fill="#F29B61"/><rect x="558.10" y="193" width="40" height="1" fill="#F6B589"/><rect x="558.10" y="194" width="40" height="1" fill="#F1995D"/><rect x="558.10" y="195" width="40" height="1" fill="#F5B285"/><rect x="558.10" y="196" width="40" height="1" fill="#F09353"/><rect x="558.10" y="197" width="40" height="1" fill="#F8C39E"/><rect x="558.10" y="198" width="40" height="1" fill="#F09353"/><rect x="558.10" y="199" width="40" height="1" fill="#FAD3B8"/><rect x="558.10" y="200" width="40" height="1" fill="#F2A169"/><rect x="558.10" y="201" width="40" height="1" fill="#FAD4BA"/><rect x="558.10" y="202" width="40" height="1" fill="#F5B182"/><rect x="558.10" y="203" width="40" height="1" fill="#F9CCAC"/><rect x="558.10" y="204" width="40" height="1" fill="#F5AF80"/><rect x="558.10" y="205" width="40" height="1" fill="#F8C5A2"/><rect x="558.10" y="206" width="40" height="1" fill="#F19A5F"/><rect x="558.10" y="207" width="40" height="1" fill="#F8C29E"/><rect x="558.10" y="208" width="40" height="1" fill="#EE863E"/><rect x="558.10" y="209" width="40" height="1" fill="#F7BC94"/><rect x="558.10" y="210" width="40" height="1" fill="#EE853E"/><rect x="558.10" y="211" width="40" height="1" fill="#F5B487"/><rect x="558.10" y="212" width="40" height="1" fill="#F19557"/><rect x="558.10" y="213" width="40" height="1" fill="#F6B589"/><rect x="558.10" y="214" width="40" height="1" fill="#F3A26A"/><rect x="558.10" y="215" width="40" height="1" fill="#F8C4A0"/><rect x="558.10" y="216" width="40" height="1" fill="#F29F66"/><rect x="558.10" y="217" width="40" height="1" fill="#FAD1B5"/><rect x="558.10" y="218" width="40" height="1" fill="#F19659"/><rect x="558.10" y="219" width="40" height="1" fill="#F9CBAC"/><rect x="558.10" y="220" width="40" height="1" fill="#F09252"/><rect x="558.10" y="221" width="40" height="1" fill="#F6B68A"/><rect x="558.10" y="222" width="40" height="1" fill="#F09251"/><rect x="558.10" y="223" width="40" height="1" fill="#F3A874"/><rect x="558.10" y="224" width="40" height="1" fill="#EF8D4A"/><rect x="558.10" y="225" width="40" height="1" fill="#F5AF80"/><rect x="558.10" y="226" width="40" height="1" fill="#EF8944"/><rect x="558.10" y="227" width="40" height="1" fill="#F8C4A0"/><rect x="558.10" y="228" width="40" height="1" fill="#F09151"/><rect x="558.10" y="229" width="40" height="1" fill="#FAD0B3"/><rect x="558.10" y="230" width="40" height="1" fill="#F3A46F"/><rect x="558.10" y="231" width="40" height="1" fill="#F9CDAF"/><rect x="558.10" y="232" width="40" height="1" fill="#F5B182"/><rect x="558.10" y="233" width="40" height="1" fill="#F8C7A5"/><rect x="558.10" y="234" width="40" height="1" fill="#F3A874"/><rect x="558.10" y="235" width="40" height="1" fill="#F8C5A2"/><rect x="558.10" y="236" width="40" height="1" fill="#F09252"/><rect x="558.10" y="237" width="40" height="1" fill="#F8C5A1"/><rect x="558.10" y="238" width="40" height="1" fill="#EF8843"/><rect x="558.10" y="239" width="40" height="1" fill="#F7BF99"/><rect x="558.10" y="240" width="40" height="1" fill="#F09455"/><rect x="558.10" y="241" width="40" height="1" fill="#F7BB93"/><rect x="558.10" y="242" width="40" height="1" fill="#F3A671"/><rect x="558.10" y="243" width="40" height="1" fill="#F8C4A1"/><rect x="558.10" y="244" width="40" height="1" fill="#F4AC7A"/><rect x="558.10" y="245" width="40" height="1" fill="#FAD5BA"/><rect x="558.10" y="246" width="40" height="1" fill="#F3A46E"/><rect x="558.10" y="247" width="40" height="1" fill="#FBD9C2"/><rect x="558.10" y="248" width="40" height="1" fill="#F29B5F"/><rect x="558.10" y="249" width="40" height="1" fill="#F9C8A7"/><rect x="558.10" y="250" width="40" height="1" fill="#F1975A"/><rect x="558.10" y="251" width="40" height="1" fill="#F5B182"/><rect x="558.10" y="252" width="40" height="1" fill="#F09353"/><rect x="558.10" y="253" width="40" height="1" fill="#F4AA77"/><rect x="558.10" y="254" width="40" height="1" fill="#EF8B47"/><rect x="558.10" y="255" width="40" height="1" fill="#F6B88D"/><rect x="558.10" y="256" width="40" height="1" fill="#EF8943"/><rect x="558.10" y="257" width="40" height="1" fill="#F8C8A6"/><rect x="558.10" y="258" width="40" height="1" fill="#F19456"/><rect x="558.10" y="259" width="40" height="1" fill="#F9CAAA"/><rect x="558.10" y="260" width="40" height="1" fill="#F3A56F"/><rect x="558.10" y="261" width="40" height="1" fill="#F7C29D"/><rect x="558.10" y="262" width="40" height="1" fill="#F3A671"/><rect x="558.10" y="263" width="40" height="1" fill="#F7BC94"/><rect x="558.10" y="264" width="40" height="1" fill="#F19455"/><rect x="558.10" y="265" width="40" height="1" fill="#F7BC93"/><rect x="558.10" y="266" width="40" height="1" fill="#EE8238"/><rect x="558.10" y="267" width="40" height="1" fill="#F6BA91"/><rect x="558.10" y="268" width="40" height="1" fill="#EE833B"/><rect x="558.10" y="269" width="40" height="1" fill="#F6B68A"/><rect x="558.10" y="270" width="40" height="1" fill="#F1975A"/><rect x="558.10" y="271" width="40" height="1" fill="#F6B990"/><rect x="558.10" y="272" width="40" height="1" fill="#F4A874"/><rect x="558.10" y="273" width="40" height="1" fill="#F9CAAA"/><rect x="558.10" y="274" width="40" height="1" fill="#F4A975"/><rect x="558.10" y="275" width="40" height="1" fill="#FBDAC3"/><rect x="558.10" y="276" width="40" height="1" fill="#F2A169"/><rect x="558.10" y="277" width="40" height="1" fill="#FBD7BE"/><rect x="558.10" y="278" width="40" height="1" fill="#F29C62"/><rect x="558.10" y="279" width="40" height="1" fill="#F8C29E"/><rect x="558.10" y="280" width="40" height="1" fill="#F29C62"/><rect x="558.10" y="281" width="40" height="1" fill="#F5B284"/><rect x="558.10" y="282" width="40" height="1" fill="#F1985B"/><rect x="558.10" y="283" width="40" height="1" fill="#F6B78D"/><rect x="558.10" y="284" width="40" height="1" fill="#F09252"/><rect x="558.10" y="285" width="40" height="1" fill="#F9CAA9"/><rect x="558.10" y="286" width="40" height="1" fill="#F19658"/><rect x="558.10" y="287" width="40" height="1" fill="#FAD4BA"/><rect x="558.10" y="288" width="40" height="1" fill="#F3A570"/><rect x="558.10" y="289" width="40" height="1" fill="#F9CEB1"/><rect x="558.10" y="290" width="40" height="1" fill="#F5AE7E"/><rect x="558.10" y="291" width="40" height="1" fill="#F8C39F"/><rect x="558.10" y="292" width="40" height="1" fill="#F3A36D"/><rect x="558.10" y="293" width="40" height="1" fill="#F7BE96"/><rect x="558.10" y="294" width="40" height="1" fill="#EF8B47"/><rect x="558.10" y="295" width="40" height="1" fill="#F6BB92"/><rect x="558.10" y="296" width="40" height="1" fill="#ED7E33"/><rect x="558.10" y="297" width="40" height="1" fill="#F6B589"/><rect x="558.10" y="298" width="40" height="1" fill="#EF8741"/><rect x="558.10" y="299" width="40" height="1" fill="#F5B183"/><rect x="558.10" y="300" width="40" height="1" fill="#F19A5F"/><rect x="558.10" y="301" width="40" height="1" fill="#F6B98F"/><rect x="558.10" y="302" width="40" height="1" fill="#F3A26C"/><rect x="558.10" y="303" width="40" height="1" fill="#F9CAAA"/><rect x="558.10" y="304" width="40" height="1" fill="#F29C62"/><rect x="558.10" y="305" width="40" height="1" fill="#FAD2B6"/><rect x="558.10" y="306" width="40" height="1" fill="#F19455"/><rect x="558.10" y="307" width="40" height="1" fill="#F8C5A2"/><rect x="558.10" y="308" width="40" height="1" fill="#F09354"/><rect x="558.10" y="309" width="40" height="1" fill="#F5B182"/>
<rect x="558.10" y="90" width="1" height="219.85" fill="#ED7D31" opacity="0.6"/>
<rect x="597.10" y="90" width="1" height="219.85" fill="#ED7D31" opacity="0.6"/>
<rect x="559.10" y="90" width="1" height="219.85" fill="#ED7D31" opacity="0.4"/>
<rect x="596.10" y="90" width="1" height="219.85" fill="#ED7D31" opacity="0.4"/>
<rect x="560.10" y="90" width="1" height="219.85" fill="#ED7D31" opacity="0.25"/>
<rect x="595.10" y="90" width="1" height="219.85" fill="#ED7D31" opacity="0.25"/>
<rect x="561.10" y="90" width="1" height="219.85" fill="#ED7D31" opacity="0.14"/>
<rect x="594.10" y="90" width="1" height="219.85" fill="#ED7D31" opacity="0.14"/>
<rect x="562.10" y="90" width="1" height="219.85" fill="#ED7D31" opacity="0.07"/>
<rect x="593.10" y="90" width="1" height="219.85" fill="#ED7D31" opacity="0.07"/>
</g>
<clipPath id="c8"><rect x="607.10" y="116.90" width="40.00" height="192.95"/></clipPath>
<g clip-path="url(#c8)">
<rect x="607.10" y="116" width="40" height="1" fill="#BD672E"/><rect x="607.10" y="117" width="40" height="1" fill="#DCA884"/><rect x="607.10" y="118" width="40" height="1" fill="#B45416"/><rect x="607.10" y="119" width="40" height="1" fill="#D79E77"/><rect x="607.10" y="120" width="40" height="1" fill="#B45416"/><rect x="607.10" y="121" width="40" height="1" fill="#D19266"/><rect x="607.10" y="122" width="40" height="1" fill="#BF6B34"/><rect x="607.10" y="123" width="40" height="1" fill="#D4976D"/><rect x="607.10" y="124" width="40" height="1" fill="#C57946"/><rect x="607.10" y="125" width="40" height="1" fill="#DFB08E"/><rect x="607.10" y="126" width="40" height="1" fill="#C37541"/><rect x="607.10" y="127" width="40" height="1" fill="#E9C4A8"/><rect x="607.10" y="128" width="40" height="1" fill="#C06E38"/><rect x="607.10" y="129" width="40" height="1" fill="#E5BB9C"/><rect x="607.10" y="130" width="40" height="1" fill="#C16F39"/><rect x="607.10" y="131" width="40" height="1" fill="#D79F77"/><rect x="607.10" y="132" width="40" height="1" fill="#C1703A"/><rect x="607.10" y="133" width="40" height="1" fill="#D09064"/><rect x="607.10" y="134" width="40" height="1" fill="#BD672F"/><rect x="607.10" y="135" width="40" height="1" fill="#D79F78"/><rect x="607.10" y="136" width="40" height="1" fill="#BA6026"/><rect x="607.10" y="137" width="40" height="1" fill="#E3B899"/><rect x="607.10" y="138" width="40" height="1" fill="#C06C36"/><rect x="607.10" y="139" width="40" height="1" fill="#E8C3A6"/><rect x="607.10" y="140" width="40" height="1" fill="#CC8759"/><rect x="607.10" y="141" width="40" height="1" fill="#E5BC9D"/><rect x="607.10" y="142" width="40" height="1" fill="#D3956A"/><rect x="607.10" y="143" width="40" height="1" fill="#E2B594"/><rect x="607.10" y="144" width="40" height="1" fill="#CA8353"/><rect x="607.10" y="145" width="40" height="1" fill="#E2B494"/><rect x="607.10" y="146" width="40" height="1" fill="#BC642B"/><rect x="607.10" y="147" width="40" height="1" fill="#E0B08E"/><rect x="607.10" y="148" width="40" height="1" fill="#B6591C"/><rect x="607.10" y="149" width="40" height="1" fill="#D9A37D"/><rect x="607.10" y="150" width="40" height="1" fill="#BE6831"/><rect x="607.10" y="151" width="40" height="1" fill="#D69B72"/><rect x="607.10" y="152" width="40" height="1" fill="#C77C4B"/><rect x="607.10" y="153" width="40" height="1" fill="#DCA884"/><rect x="607.10" y="154" width="40" height="1" fill="#C87E4D"/><rect x="607.10" y="155" width="40" height="1" fill="#E7BFA2"/><rect x="607.10" y="156" width="40" height="1" fill="#C2733E"/><rect x="607.10" y="157" width="40" height="1" fill="#E9C3A7"/><rect x="607.10" y="158" width="40" height="1" fill="#BF6B34"/><rect x="607.10" y="159" width="40" height="1" fill="#DDAA87"/><rect x="607.10" y="160" width="40" height="1" fill="#BF6A33"/><rect x="607.10" y="161" width="40" height="1" fill="#CF8D61"/><rect x="607.10" y="162" width="40" height="1" fill="#BC652C"/><rect x="607.10" y="163" width="40" height="1" fill="#CE8A5D"/><rect x="607.10" y="164" width="40" height="1" fill="#B6591C"/><rect x="607.10" y="165" width="40" height="1" fill="#D8A07A"/><rect x="607.10" y="166" width="40" height="1" fill="#B6581B"/><rect x="607.10" y="167" width="40" height="1" fill="#E2B594"/><rect x="607.10" y="168" width="40" height="1" fill="#C06D37"/><rect x="607.10" y="169" width="40" height="1" fill="#E2B696"/><rect x="607.10" y="170" width="40" height="1" fill="#CC8657"/><rect x="607.10" y="171" width="40" height="1" fill="#DEAE8B"/><rect x="607.10" y="172" width="40" height="1" fill="#CC8758"/><rect x="607.10" y="173" width="40" height="1" fill="#DEAC89"/><rect x="607.10" y="174" width="40" height="1" fill="#C06E38"/><rect x="607.10" y="175" width="40" height="1" fill="#DFAF8C"/><rect x="607.10" y="176" width="40" height="1" fill="#B6581B"/><rect x="607.10" y="177" width="40" height="1" fill="#DCAA86"/><rect x="607.10" y="178" width="40" height="1" fill="#B95E23"/><rect x="607.10" y="179" width="40" height="1" fill="#D8A079"/><rect x="607.10" y="180" width="40" height="1" fill="#C57845"/><rect x="607.10" y="181" width="40" height="1" fill="#DAA57F"/><rect x="607.10" y="182" width="40" height="1" fill="#CD885A"/><rect x="607.10" y="183" width="40" height="1" fill="#E5BC9E"/><rect x="607.10" y="184" width="40" height="1" fill="#CB8454"/><rect x="607.10" y="185" width="40" height="1" fill="#EECFB7"/><rect x="607.10" y="186" width="40" height="1" fill="#C57946"/><rect x="607.10" y="187" width="40" height="1" fill="#EAC6AA"/><rect x="607.10" y="188" width="40" height="1" fill="#C47642"/><rect x="607.10" y="189" width="40" height="1" fill="#DBA682"/><rect x="607.10" y="190" width="40" height="1" fill="#C3743F"/><rect x="607.10" y="191" width="40" height="1" fill="#D19267"/><rect x="607.10" y="192" width="40" height="1" fill="#BE6931"/><rect x="607.10" y="193" width="40" height="1" fill="#D69B73"/><rect x="607.10" y="194" width="40" height="1" fill="#B85D22"/><rect x="607.10" y="195" width="40" height="1" fill="#E0B290"/><rect x="607.10" y="196" width="40" height="1" fill="#BB642A"/><rect x="607.10" y="197" width="40" height="1" fill="#E4BA9B"/><rect x="607.10" y="198" width="40" height="1" fill="#C67A48"/><rect x="607.10" y="199" width="40" height="1" fill="#E0B08F"/><rect x="607.10" y="200" width="40" height="1" fill="#CC8758"/><rect x="607.10" y="201" width="40" height="1" fill="#DBA681"/><rect x="607.10" y="202" width="40" height="1" fill="#C47642"/><rect x="607.10" y="203" width="40" height="1" fill="#DAA57F"/><rect x="607.10" y="204" width="40" height="1" fill="#B6571A"/><rect x="607.10" y="205" width="40" height="1" fill="#D9A37D"/><rect x="607.10" y="206" width="40" height="1" fill="#B45416"/><rect x="607.10" y="207" width="40" height="1" fill="#D59A71"/><rect x="607.10" y="208" width="40" height="1" fill="#B95E23"/><rect x="607.10" y="209" width="40" height="1" fill="#D3956A"/><rect x="607.10" y="210" width="40" height="1" fill="#C57744"/><rect x="607.10" y="211" width="40" height="1" fill="#DAA47E"/><rect x="607.10" y="212" width="40" height="1" fill="#C87F4E"/><rect x="607.10" y="213" width="40" height="1" fill="#E6BFA1"/><rect x="607.10" y="214" width="40" height="1" fill="#C47743"/><rect x="607.10" y="215" width="40" height="1" fill="#EBC9AE"/><rect x="607.10" y="216" width="40" height="1" fill="#C2713C"/><rect x="607.10" y="217" width="40" height="1" fill="#E2B595"/><rect x="607.10" y="218" width="40" height="1" fill="#C3743F"/><rect x="607.10" y="219" width="40" height="1" fill="#D59A72"/><rect x="607.10" y="220" width="40" height="1" fill="#C2723D"/><rect x="607.10" y="221" width="40" height="1" fill="#D4976D"/><rect x="607.10" y="222" width="40" height="1" fill="#BE6931"/><rect x="607.10" y="223" width="40" height="1" fill="#DEAD8A"/><rect x="607.10" y="224" width="40" height="1" fill="#BD672E"/><rect x="607.10" y="225" width="40" height="1" fill="#E8C3A6"/><rect x="607.10" y="226" width="40" height="1" fill="#C57845"/><rect x="607.10" y="227" width="40" height="1" fill="#E8C3A7"/><rect x="607.10" y="228" width="40" height="1" fill="#D08F62"/><rect x="607.10" y="229" width="40" height="1" fill="#E2B696"/><rect x="607.10" y="230" width="40" height="1" fill="#CF8E61"/><rect x="607.10" y="231" width="40" height="1" fill="#DFAF8C"/><rect x="607.10" y="232" width="40" height="1" fill="#C2723D"/><rect x="607.10" y="233" width="40" height="1" fill="#DEAD8B"/><rect x="607.10" y="234" width="40" height="1" fill="#B55619"/><rect x="607.10" y="235" width="40" height="1" fill="#DBA681"/><rect x="607.10" y="236" width="40" height="1" fill="#B55619"/><rect x="607.10" y="237" width="40" height="1" fill="#D59A71"/><rect x="607.10" y="238" width="40" height="1" fill="#C06D36"/><rect x="607.10" y="239" width="40" height="1" fill="#D59A71"/><rect x="607.10" y="240" width="40" height="1" fill="#C77C4B"/><rect x="607.10" y="241" width="40" height="1" fill="#DEAD8A"/><rect x="607.10" y="242" width="40" height="1" fill="#C57744"/><rect x="607.10" y="243" width="40" height="1" fill="#E7C0A3"/><rect x="607.10" y="244" width="40" height="1" fill="#BF6B34"/><rect x="607.10" y="245" width="40" height="1" fill="#E4B99A"/><rect x="607.10" y="246" width="40" height="1" fill="#BD672F"/><rect x="607.10" y="247" width="40" height="1" fill="#D69C74"/><rect x="607.10" y="248" width="40" height="1" fill="#BD6830"/><rect x="607.10" y="249" width="40" height="1" fill="#CD895B"/><rect x="607.10" y="250" width="40" height="1" fill="#BB6329"/><rect x="607.10" y="251" width="40" height="1" fill="#D2946A"/><rect x="607.10" y="252" width="40" height="1" fill="#B85C20"/><rect x="607.10" y="253" width="40" height="1" fill="#DFB08E"/><rect x="607.10" y="254" width="40" height="1" fill="#BC642B"/><rect x="607.10" y="255" width="40" height="1" fill="#E6BFA1"/><rect x="607.10" y="256" width="40" height="1" fill="#C87E4D"/><rect x="607.10" y="257" width="40" height="1" fill="#E4B99A"/><rect x="607.10" y="258" width="40" height="1" fill="#D08F63"/><rect x="607.10" y="259" width="40" height="1" fill="#E0B08E"/><rect x="607.10" y="260" width="40" height="1" fill="#CA8354"/><rect x="607.10" y="261" width="40" height="1" fill="#DFB08E"/><rect x="607.10" y="262" width="40" height="1" fill="#BD662E"/><rect x="607.10" y="263" width="40" height="1" fill="#E0B18F"/><rect x="607.10" y="264" width="40" height="1" fill="#B7591D"/><rect x="607.10" y="265" width="40" height="1" fill="#DCA985"/><rect x="607.10" y="266" width="40" height="1" fill="#BE6A32"/><rect x="607.10" y="267" width="40" height="1" fill="#D9A27C"/><rect x="607.10" y="268" width="40" height="1" fill="#CA8252"/><rect x="607.10" y="269" width="40" height="1" fill="#DEAD8A"/><rect x="607.10" y="270" width="40" height="1" fill="#CD885A"/><rect x="607.10" y="271" width="40" height="1" fill="#E9C3A7"/><rect x="607.10" y="272" width="40" height="1" fill="#C77C4A"/><rect x="607.10" y="273" width="40" height="1" fill="#ECCBB1"/><rect x="607.10" y="274" width="40" height="1" fill="#C1703B"/><rect x="607.10" y="275" width="40" height="1" fill="#E2B594"/><rect x="607.10" y="276" width="40" height="1" fill="#C06E38"/><rect x="607.10" y="277" width="40" height="1" fill="#D3956B"/><rect x="607.10" y="278" width="40" height="1" fill="#BE6A33"/><rect x="607.10" y="279" width="40" height="1" fill="#CE8C5F"/><rect x="607.10" y="280" width="40" height="1" fill="#B95F24"/><rect x="607.10" y="281" width="40" height="1" fill="#D89F78"/><rect x="607.10" y="282" width="40" height="1" fill="#B75A1E"/><rect x="607.10" y="283" width="40" height="1" fill="#E2B594"/><rect x="607.10" y="284" width="40" height="1" fill="#BE6931"/><rect x="607.10" y="285" width="40" height="1" fill="#E3B696"/><rect x="607.10" y="286" width="40" height="1" fill="#C97F4F"/><rect x="607.10" y="287" width="40" height="1" fill="#DDAA86"/><rect x="607.10" y="288" width="40" height="1" fill="#CA8252"/><rect x="607.10" y="289" width="40" height="1" fill="#D9A37D"/><rect x="607.10" y="290" width="40" height="1" fill="#BE6A33"/><rect x="607.10" y="291" width="40" height="1" fill="#DAA57F"/><rect x="607.10" y="292" width="40" height="1" fill="#B45416"/><rect x="607.10" y="293" width="40" height="1" fill="#DAA37D"/><rect x="607.10" y="294" width="40" height="1" fill="#B45416"/><rect x="607.10" y="295" width="40" height="1" fill="#D69C74"/><rect x="607.10" y="296" width="40" height="1" fill="#C16F39"/><rect x="607.10" y="297" width="40" height="1" fill="#D89F78"/><rect x="607.10" y="298" width="40" height="1" fill="#CB8455"/><rect x="607.10" y="299" width="40" height="1" fill="#E2B594"/><rect x="607.10" y="300" width="40" height="1" fill="#CA8354"/><rect x="607.10" y="301" width="40" height="1" fill="#ECCBB1"/><rect x="607.10" y="302" width="40" height="1" fill="#C57845"/><rect x="607.10" y="303" width="40" height="1" fill="#EBC8AD"/><rect x="607.10" y="304" width="40" height="1" fill="#C3743F"/><rect x="607.10" y="305" width="40" height="1" fill="#DEAC89"/><rect x="607.10" y="306" width="40" height="1" fill="#C47541"/><rect x="607.10" y="307" width="40" height="1" fill="#D3966C"/><rect x="607.10" y="308" width="40" height="1" fill="#C1703B"/><rect x="607.10" y="309" width="40" height="1" fill="#D79E76"/>
<rect x="607.10" y="116" width="1" height="193.85" fill="#B45416" opacity="0.6"/>
<rect x="646.10" y="116" width="1" height="193.85" fill="#B45416" opacity="0.6"/>
<rect x="608.10" y="116" width="1" height="193.85" fill="#B45416" opacity="0.4"/>
<rect x="645.10" y="116" width="1" height="193.85" fill="#B45416" opacity="0.4"/>
<rect x="609.10" y="116" width="1" height="193.85" fill="#B45416" opacity="0.25"/>
<rect x="644.10" y="116" width="1" height="193.85" fill="#B45416" opacity="0.25"/>
<rect x="610.10" y="116" width="1" height="193.85" fill="#B45416" opacity="0.14"/>
<rect x="643.10" y="116" width="1" height="193.85" fill="#B45416" opacity="0.14"/>
<rect x="611.10" y="116" width="1" height="193.85" fill="#B45416" opacity="0.07"/>
<rect x="642.10" y="116" width="1" height="193.85" fill="#B45416" opacity="0.07"/>
</g>
<rect x="63" y="53.8" width="1" height="257" fill="#404040"/>
<rect x="63" y="309.9" width="617.1" height="0.95" fill="#404040"/>
<rect x="227.2" y="5.8" width="223.8" height="30.2" fill="#fff" stroke="#000" stroke-width="1.6"/>
<rect x="245.3" y="15.6" width="9.7" height="9.9" fill="#ED7D31" opacity="0.96"/><rect x="245.3" y="18" width="9.7" height="1" fill="#fff" opacity="0.34"/><rect x="245.3" y="20" width="9.7" height="1" fill="#fff" opacity="0.3"/><rect x="245.3" y="22" width="9.7" height="1" fill="#fff" opacity="0.18"/><rect x="245.3" y="23" width="9.7" height="1" fill="#fff" opacity="0.2"/>
<rect x="354.2" y="15.5" width="9.7" height="9.9" fill="#BE5612" opacity="0.96"/><rect x="354.2" y="18" width="9.7" height="1" fill="#fff" opacity="0.34"/><rect x="354.2" y="20" width="9.7" height="1" fill="#fff" opacity="0.3"/><rect x="354.2" y="22" width="9.7" height="1" fill="#fff" opacity="0.18"/><rect x="354.2" y="23" width="9.7" height="1" fill="#fff" opacity="0.2"/>
<text x="259.3" y="25.6" font-family="'Liberation Serif', serif" font-weight="bold" font-size="19" fill="#000" stroke="#000" stroke-width="0.3">Accuracy</text>
<text x="367.9" y="25.6" font-family="'Liberation Serif', serif" font-weight="bold" font-size="19" fill="#000" stroke="#000" stroke-width="0.3" word-spacing="0.7">F1 Score</text>
<text x="28.1" y="316.20" font-family="'Liberation Serif', serif" font-weight="bold" font-size="19" fill="#000" stroke="#000" stroke-width="0.3">74</text>
<text x="28.1" y="287.72" font-family="'Liberation Serif', serif" font-weight="bold" font-size="19" fill="#000" stroke="#000" stroke-width="0.3">76</text>
<text x="28.1" y="259.24" font-family="'Liberation Serif', serif" font-weight="bold" font-size="19" fill="#000" stroke="#000" stroke-width="0.3">78</text>
<text x="28.1" y="230.76" font-family="'Liberation Serif', serif" font-weight="bold" font-size="19" fill="#000" stroke="#000" stroke-width="0.3">80</text>
<text x="28.1" y="202.28" font-family="'Liberation Serif', serif" font-weight="bold" font-size="19" fill="#000" stroke="#000" stroke-width="0.3">82</text>
<text x="28.1" y="173.80" font-family="'Liberation Serif', serif" font-weight="bold" font-size="19" fill="#000" stroke="#000" stroke-width="0.3">84</text>
<text x="28.1" y="145.32" font-family="'Liberation Serif', serif" font-weight="bold" font-size="19" fill="#000" stroke="#000" stroke-width="0.3">86</text>
<text x="28.1" y="116.84" font-family="'Liberation Serif', serif" font-weight="bold" font-size="19" fill="#000" stroke="#000" stroke-width="0.3">88</text>
<text x="28.1" y="88.36" font-family="'Liberation Serif', serif" font-weight="bold" font-size="19" fill="#000" stroke="#000" stroke-width="0.3">90</text>
<text x="28.1" y="59.88" font-family="'Liberation Serif', serif" font-weight="bold" font-size="19" fill="#000" stroke="#000" stroke-width="0.3">92</text>
<text x="140.10" y="339.1" text-anchor="middle" font-family="'Liberation Serif', serif" font-weight="bold" font-size="19" fill="#000" stroke="#000" stroke-width="0.3">GWO</text>
<text x="294.40" y="339.1" text-anchor="middle" font-family="'Liberation Serif', serif" font-weight="bold" font-size="19" fill="#000" stroke="#000" stroke-width="0.3">FFOA</text>
<text x="448.65" y="339.1" text-anchor="middle" font-family="'Liberation Serif', serif" font-weight="bold" font-size="19" fill="#000" stroke="#000" stroke-width="0.3">BOA</text>
<text x="602.60" y="339.1" text-anchor="middle" font-family="'Liberation Serif', serif" font-weight="bold" font-size="19" fill="#000" stroke="#000" stroke-width="0.3">CSBOA</text>
<text x="371.3" y="364.8" text-anchor="middle" font-family="'Liberation Serif', serif" font-weight="bold" font-size="19" fill="#000" stroke="#000" stroke-width="0.3" word-spacing="2.4">Optimization models</text>
<text transform="translate(18.2 180.1) rotate(-90)" text-anchor="middle" font-family="'Liberation Serif', serif" font-weight="bold" font-size="19" fill="#000" stroke="#000" stroke-width="0.3" word-spacing="2">Range (%)</text>
</svg>
</body></html>
